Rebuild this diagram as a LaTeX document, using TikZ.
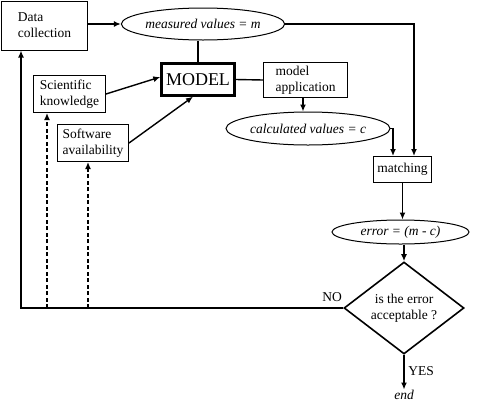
\documentclass[tikz,border=0pt]{standalone}
\usepackage{fontspec}
\setmainfont{Liberation Serif}
\usetikzlibrary{shapes.geometric,arrows.meta}
\begin{document}
\begin{tikzpicture}[x=1pt,y=-1pt,
  txt/.style={font=\fontsize{13.5}{16}\selectfont},
  box/.style={txt, draw, line width=1pt, align=left, inner sep=0pt},
  oval/.style={txt, draw, ellipse, line width=1pt, inner sep=0pt, font=\fontsize{13.5}{16}\selectfont\itshape},
  arr/.style={line width=1.4pt, -{Latex[length=7pt,width=6pt]}},
  ln/.style={line width=1.4pt},
  dsh/.style={line width=1.3pt, dash pattern=on 4pt off 2.5pt, -{Latex[length=7pt,width=6pt]}}]
\useasboundingbox (0,0) rectangle (478,402);
% nodes
\node[box, minimum width=86pt, minimum height=49pt] (dc) at (44.5,25.5) {Data\\collection};
\node[oval, minimum width=140pt, minimum height=32pt] (mv) at (203,24) {measured values = m};
\node[txt, draw, line width=2.4pt, inner sep=0pt, minimum width=73pt, minimum height=32pt, font=\fontsize{18}{20}\selectfont] (model) at (198,79.5) {MODEL};
\node[box, minimum width=72pt, minimum height=37pt] (sk) at (69.5,94) {Scientific\\knowledge};
\node[box, minimum width=71pt, minimum height=37pt] (sa) at (93,143) {Software\\availability};
\node[box, minimum width=84pt, minimum height=35pt] (ma) at (305.5,80) {model\\application};
\node[oval, minimum width=142pt, minimum height=33pt] (calc) at (308,128.5) {calculated values = c};
\node[box, minimum width=58pt, minimum height=26pt] (mt) at (402.5,169.5) {matching};
\node[oval, minimum width=137pt, minimum height=24pt] (err) at (400.5,232) {error = (m - c)};
\node[txt, draw, diamond, line width=1.6pt, inner sep=0pt, aspect=1.3, minimum width=120pt, minimum height=92pt, align=center] (dia) at (404,308) {is the error\\acceptable ?};
\node[txt, inner sep=0pt] (no) at (332,297) {NO};
\node[txt, inner sep=0pt] (yes) at (421,371) {YES};
\node[txt, inner sep=0pt, font=\fontsize{13.5}{16}\selectfont\itshape] (end) at (404,394.5) {end};
\coordinate (lc) at (21,308);
\coordinate (d1) at (47,308);
\coordinate (d2) at (88,308);
% connectors
\draw[arr] (dc.east |- mv.west) -- (mv.west);
\draw[ln] (model.north) -- (model.north |- mv.south);
\draw[arr] (mv.east) -| ([xshift=11.5pt]mt.north);
\draw[arr] (sk.east) -- ([yshift=2.5pt]model.west);
\draw[arr] (sa.east) -- ([xshift=-5pt]model.south);
\draw[ln] (model.east) -- (ma.west);
\draw[arr] ([xshift=-2.5pt]ma.south) -- ([xshift=-2.5pt]ma.south |- calc.north);
\draw[arr] (calc.east) -| ([xshift=-9.5pt]mt.north);
\draw[arr] (mt.south) -- (mt.south |- err.north);
\draw[arr] (err.south -| dia.north) -- (dia.north);
\draw[arr] (dia.west) -- (lc) -- (lc |- dc.south);
\draw[dsh] (d1) -- (d1 |- sk.south);
\draw[dsh] (d2) -- (d2 |- sa.south);
\draw[arr] (dia.south) -- (end.north);
\end{tikzpicture}
\end{document}
